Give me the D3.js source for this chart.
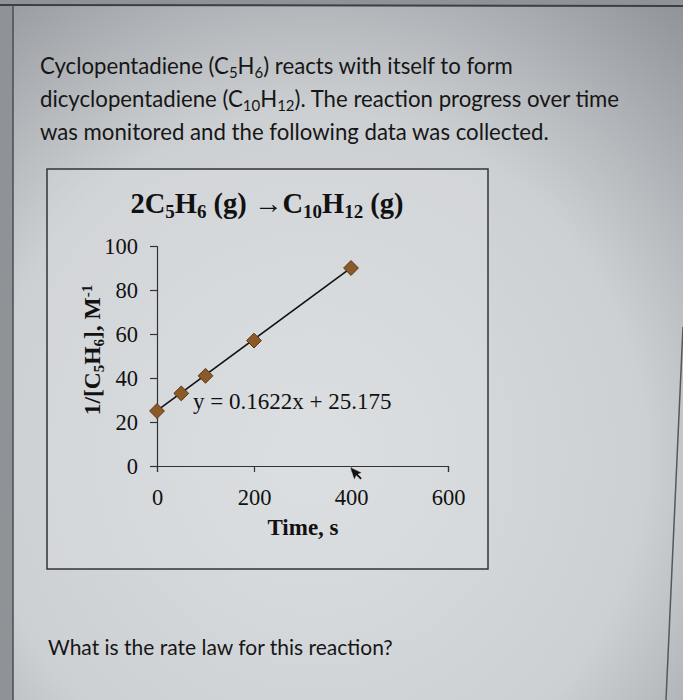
<!DOCTYPE html>
<meta charset="utf-8">
<head>
  <title>Second order plot</title>
</head>

<style>
body { margin: 0; background: #8f9398; }
.prose { font-family: Lato, "Open Sans", sans-serif; fill: #161616; }
.serif { font-family: "Liberation Serif", "Times New Roman", serif; fill: #111; }
.axis path, .axis line { stroke: #333; stroke-width: 1.2; }
.axis text { font-family: "Liberation Serif", "Times New Roman", serif; font-size: 22.5px; fill: #111; }
</style>

<body>
  <svg width="683" height="700"></svg>

  <script src="https://cdn.jsdelivr.net/npm/d3@7"></script>
  <script>
// data
var times = [0, 50, 100, 200, 400];          // s
var invConc = [25, 33, 41, 57, 90];          // 1/[C5H6], M^-1
var fitSlope = 0.1622;
var fitIntercept = 25.175;
var xTicks = [0, 200, 400, 600];
var yTicks = [0, 20, 40, 60, 80, 100];

var svg = d3.select('svg');

// photographed-screen background
var defs = svg.append('defs');
var grad = defs.append('radialGradient')
  .attr('id', 'screen')
  .attr('cx', '45%').attr('cy', '65%').attr('r', '90%');
grad.append('stop').attr('offset', '0%').attr('stop-color', '#dcdfe1');
grad.append('stop').attr('offset', '55%').attr('stop-color', '#cdd0d3');
grad.append('stop').attr('offset', '100%').attr('stop-color', '#878b90');

svg.append('rect')
  .attr('x', 13).attr('y', 5)
  .attr('width', 670).attr('height', 695)
  .attr('fill', 'url(#screen)');
svg.append('line')
  .attr('x1', 0).attr('x2', 683).attr('y1', 5).attr('y2', 6)
  .attr('stroke', '#3c3f43').attr('stroke-width', 2);
svg.append('line')
  .attr('x1', 13).attr('x2', 13).attr('y1', 5).attr('y2', 700)
  .attr('stroke', '#4a4d51').attr('stroke-width', 1.5);
svg.append('line')
  .attr('x1', 683).attr('x2', 666).attr('y1', 327).attr('y2', 700)
  .attr('stroke', '#55585c').attr('stroke-width', 1.5);

// rich text helper: parts are [text, kind]
function rich(sel, parts, subSize, shift) {
  parts.forEach(function(p) {
    var s = sel.append('tspan').text(p[0]);
    if (p[1] === 'sub') s.attr('font-size', subSize).attr('dy', shift);
    if (p[1] === 'up') s.attr('dy', -shift);
    if (p[1] === 'sup') s.attr('font-size', subSize).attr('dy', -2 * shift);
  });
  return sel;
}

// question text
var paraLines = [
  [74, [['Cyclopentadiene (C'], ['5', 'sub'], ['H', 'up'], ['6', 'sub'], [') reacts with itself to form', 'up']]],
  [107, [['dicyclopentadiene (C'], ['10', 'sub'], ['H', 'up'], ['12', 'sub'], ['). The reaction progress over time', 'up']]],
  [140, [['was monitored and the following data was collected.']]]
];
paraLines.forEach(function(l) {
  rich(svg.append('text').attr('class', 'prose')
    .attr('font-size', 22.2)
    .attr('x', 40).attr('y', l[0]), l[1], 15, 4);
});

svg.append('text').attr('class', 'prose')
  .attr('font-size', 21)
  .attr('x', 48).attr('y', 655)
  .text('What is the rate law for this reaction?');

// chart frame
svg.append('rect')
  .attr('x', 47).attr('y', 169)
  .attr('width', 441).attr('height', 400)
  .attr('fill', '#dde0e2').attr('fill-opacity', 0.35)
  .attr('stroke', '#333').attr('stroke-width', 1.5);

// title
rich(svg.append('text').attr('class', 'serif')
  .attr('x', 267).attr('y', 213)
  .attr('text-anchor', 'middle')
  .attr('font-size', 28.5).attr('font-weight', 'bold'),
  [['2C'], ['5', 'sub'], ['H', 'up'], ['6', 'sub'], [' (g) \u2192C', 'up'], ['10', 'sub'], ['H', 'up'], ['12', 'sub'], [' (g)', 'up']],
  19, 5);

var x = d3.scaleLinear().domain([0, 600]).range([157, 448]);
var y = d3.scaleLinear().domain([0, 100]).range([466, 246]);

svg.append('g')
  .attr('class', 'axis')
  .attr('transform', 'translate(0,' + y(0) + ')')
  .call(d3.axisBottom(x).tickValues(xTicks).tickSize(6).tickSizeOuter(6).tickPadding(17));

svg.append('g')
  .attr('class', 'axis')
  .attr('transform', 'translate(' + x(0) + ',0)')
  .call(d3.axisLeft(y).tickValues(yTicks).tickSize(7).tickSizeOuter(7).tickPadding(12));

// axis titles
svg.append('text').attr('class', 'serif')
  .attr('x', 303).attr('y', 535)
  .attr('text-anchor', 'middle')
  .attr('font-size', 23).attr('font-weight', 'bold')
  .text('Time, s');

rich(svg.append('text').attr('class', 'serif')
  .attr('transform', 'translate(100,350) rotate(-90)')
  .attr('text-anchor', 'middle')
  .attr('font-size', 23.5).attr('font-weight', 'bold'),
  [['1/[C'], ['5', 'sub'], ['H', 'up'], ['6', 'sub'], ['], M', 'up'], ['-1', 'sup']],
  15, 4);

// trend line
var fit = d3.extent(times).map(function(t) {
  return [t, fitSlope * t + fitIntercept];
});
svg.append('path')
  .datum(fit)
  .attr('fill', 'none')
  .attr('stroke', '#111')
  .attr('stroke-width', 1.6)
  .attr('d', d3.line()
    .x(function(d) { return x(d[0]); })
    .y(function(d) { return y(d[1]); }));

// markers
svg.append('g')
  .selectAll('path')
  .data(times)
  .enter()
  .append('path')
  .attr('transform', function(d, i) { return 'translate(' + x(d) + ',' + y(invConc[i]) + ')'; })
  .attr('d', d3.symbol().type(d3.symbolDiamond2).size(140))
  .attr('fill', '#8c5a28')
  .attr('stroke', '#5a3815')
  .attr('stroke-width', 1);

svg.append('text').attr('class', 'serif')
  .attr('x', 193).attr('y', 409)
  .attr('font-size', 23)
  .text('y = 0.1622x + 25.175');

// mouse pointer sitting on the axis
svg.append('path')
  .attr('transform', 'translate(' + (x(400) - 1) + ',' + (y(0) + 1) + ') rotate(-18) scale(0.85)')
  .attr('d', 'M0,0 L0,16 L4,12 L7,18 L9.5,17 L6.5,11 L11.5,11 Z')
  .attr('fill', '#111')
  .attr('stroke', '#eee')
  .attr('stroke-width', 0.6);
  </script>
</body>
</html>
